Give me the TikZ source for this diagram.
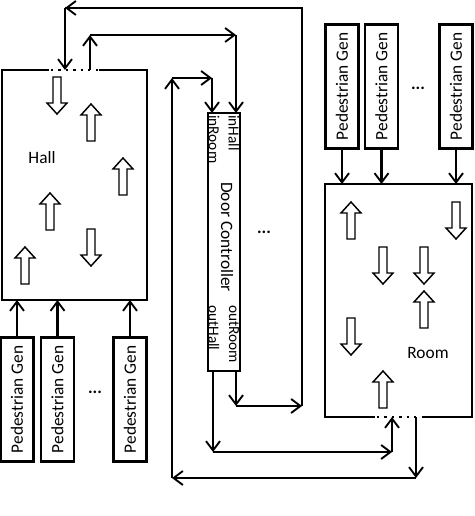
\documentclass[tikz,border=0pt]{standalone}
\usepackage{fontspec}
\setmainfont{Carlito}
\usetikzlibrary{arrows.meta}
\begin{document}
\begin{tikzpicture}[x=0.75pt,y=-0.75pt,
  wire/.style={line width=1.6pt, -{Straight Barb[length=7pt,width=10.5pt,line width=1.4pt]}},
  edge/.style={line width=1.6pt},
  gap/.style={line width=1.6pt, dash pattern=on 1.6pt off 4pt},
  genbox/.style={draw, line width=1.6pt, inner sep=0pt, minimum width=24.75pt, minimum height=93pt},
  gentxt/.style={rotate=90, font=\fontsize{13}{13}\selectfont},
  maintxt/.style={font=\fontsize{13}{13}\selectfont, inner sep=0pt},
  dotstxt/.style={font=\fontsize{13}{13}\selectfont\bfseries, inner sep=0pt},
  port/.style={font=\fontsize{11.5}{11.5}\selectfont, rotate=-90, inner sep=0pt},
  blk/.style={draw, line width=1.1pt, fill=white, line join=miter},
  blkdown/.pic={\draw[blk] (-4,0) -- (4,0) -- (4,26) -- (10,26) -- (0,37) -- (-10,26) -- (-4,26) -- cycle;},
  blkup/.pic={\draw[blk] (-4,37) -- (4,37) -- (4,11) -- (10,11) -- (0,0) -- (-10,11) -- (-4,11) -- cycle;}
]
\useasboundingbox (0,0) rectangle (474,516);

% ---------- Hall ----------
\coordinate (hallNW) at (2,70);
\coordinate (hallSE) at (147,300);
\draw[edge] (49,70) -- (hallNW) -- (2,300) -- (hallSE) -- (147,70) -- (99,70);
\draw[gap] (51,70) -- (99,70);
\coordinate (hallIn) at (65,70);
\coordinate (hallOut) at (90,70);
\node[maintxt] (halltxt) at (42,158) {Hall};
\pic at (57,77) {blkdown};
\pic at (91,104) {blkup};
\pic at (123,158) {blkup};
\pic at (50,193) {blkup};
\pic at (91,229) {blkdown};
\pic at (25,247) {blkup};

% ---------- Room ----------
\coordinate (roomNW) at (325,184);
\coordinate (roomSE) at (472,417);
\draw[edge] (375,417) -- (325,417) -- (roomNW) -- (472,184) -- (roomSE) -- (422,417);
\draw[gap] (377,417) -- (422,417);
\coordinate (roomIn) at (392,417);
\coordinate (roomOut) at (416,417);
\node[maintxt] (roomtxt) at (428,353) {Room};
\pic at (351,202) {blkup};
\pic at (456,202) {blkdown};
\pic at (383,247) {blkdown};
\pic at (424,247) {blkdown};
\pic at (424,291) {blkup};
\pic at (351,318) {blkdown};
\pic at (383,371) {blkup};

% ---------- Pedestrian generators (hall) ----------
\node[genbox] (pg1) at (17,399.5) {};
\node[genbox] (pg2) at (57.5,399.5) {};
\node[genbox] (pg3) at (130,399.5) {};
\foreach \n in {pg1,pg2,pg3} {
  \node[gentxt] at (\n) {Pedestrian Gen};
  \draw[wire] (\n.north) -- (\n.north |- hallSE);
}
\node[dotstxt] (dotsA) at (95,392) {...};

% ---------- Pedestrian generators (room) ----------
\node[genbox] (pr1) at (342,86.5) {};
\node[genbox] (pr2) at (381.5,86.5) {};
\node[genbox] (pr3) at (456,86.5) {};
\foreach \n in {pr1,pr2,pr3} {
  \node[gentxt] at (\n) {Pedestrian Gen};
  \draw[wire] (\n.south) -- (\n.south |- roomNW);
}
\node[dotstxt] (dotsB) at (418,88) {...};

% ---------- Door controller ----------
\node[draw, line width=1.6pt, minimum width=24pt, minimum height=193.5pt, inner sep=0pt] (dc) at (224,242) {};
\node[maintxt, rotate=-90] (dctxt) at (227,237) {Door Controller};
\node[port, anchor=west] (pInHall) at (234,115) {inHall};
\node[port, anchor=west] (pInRoom) at (214,115) {inRoom};
\node[port, anchor=west] (pOutRoom) at (234,305) {outRoom};
\node[port, anchor=west] (pOutHall) at (214,305) {outHall};
\node[dotstxt] (dotsC) at (264,232) {...};

\coordinate (dcInRoom) at (212,113);
\coordinate (dcInHall) at (236,113);
\coordinate (dcOutHall) at (213,371);
\coordinate (dcOutRoom) at (236,371);

% ---------- Connectors ----------
% Hall -> inHall
\coordinate (c1) at (90,35);
\coordinate (c2) at (236,35);
\draw[wire] (hallOut) -- (c1);
\draw[wire] (c1) -- (c2);
\draw[wire] (c2) -- (dcInHall);

% outRoom -> Hall
\coordinate (c3) at (236,406);
\coordinate (c4) at (302,406);
\coordinate (c5) at (302,8);
\coordinate (c6) at (65,8);
\draw[wire] (dcOutRoom) -- (c3);
\draw[wire] (c3) -- (c4);
\draw[edge] (c4) -- (c5) -- (c6);
\draw[wire] (c5) -- (c6);
\draw[wire] (c6) -- (hallIn);

% outHall -> Room
\coordinate (c7) at (213,452);
\coordinate (c8) at (392,452);
\draw[wire] (dcOutHall) -- (c7);
\draw[wire] (c7) -- (c8);
\draw[wire] (c8) -- (roomIn);

% Room -> inRoom
\coordinate (c9) at (416,478);
\coordinate (c10) at (172,478);
\coordinate (c11) at (172,78);
\coordinate (c12) at (212,78);
\draw[wire] (roomOut) -- (c9);
\draw[wire] (c9) -- (c10);
\draw[wire] (c10) -- (c11);
\draw[wire] (c11) -- (c12);
\draw[wire] (c12) -- (dcInRoom);
\end{tikzpicture}
\end{document}
